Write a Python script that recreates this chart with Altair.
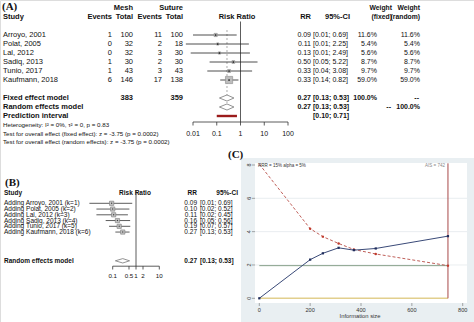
import altair as alt
import pandas as pd

# ---------------- data ----------------
studies = ["Arroyo, 2001", "Polat, 2005", "Lal, 2012", "Sadiq, 2013", "Tunio, 2017", "Kaufmann, 2018"]
mesh_events = [1, 0, 0, 1, 1, 6]
mesh_total = [100, 32, 32, 30, 43, 146]
sut_events = [11, 2, 3, 2, 3, 17]
sut_total = [100, 18, 30, 30, 43, 138]
rr = [0.09, 0.11, 0.13, 0.50, 0.33, 0.33]
rr_lo = [0.01, 0.005, 0.008, 0.05, 0.04, 0.14]
rr_hi = [0.69, 2.25, 2.49, 5.22, 3.08, 0.82]
w_fixed = [11.6, 5.4, 5.6, 8.7, 9.7, 59.0]
w_random = [11.6, 5.4, 5.6, 8.7, 9.7, 59.0]
pooled_rr, pooled_lo, pooled_hi = 0.27, 0.13, 0.53
pred_lo, pred_hi = 0.10, 0.71
total_mesh, total_suture = 383, 359

cum_labels = ["Adding Arroyo, 2001 (k=1)", "Adding Polat, 2005 (k=2)", "Adding Lal, 2012 (k=3)",
              "Adding Sadiq, 2013 (k=4)", "Adding Tunio, 2017 (k=5)", "Adding Kaufmann, 2018 (k=6)"]
cum_rr = [0.09, 0.10, 0.11, 0.16, 0.19, 0.27]
cum_lo = [0.01, 0.02, 0.02, 0.05, 0.07, 0.13]
cum_hi = [0.69, 0.52, 0.45, 0.56, 0.57, 0.53]

info_size = [0, 200, 250, 312, 372, 458, 742]
z_cum = [0, 2.32, 2.70, 3.03, 2.89, 2.99, 3.73]
boundary_z = [8.05, 4.18, 3.70, 3.29, 2.93, 2.66, 1.96]
ris = 742
z_conv = 1.96

a_ticks = [0.01, 0.1, 1, 10, 100]
a_tick_labels = ["0.01", "0.1", "1", "10", "100"]
b_ticks = [0.1, 0.5, 1, 2, 10]
b_tick_labels = ["0.1", "0.5", "1", "2", "10"]
c_xticks = [0, 200, 400, 600, 800]
c_yticks = [0, 2, 4, 6, 8]

FONT = "Liberation Sans"
SERIF = "Liberation Serif"
INK = "#111111"

# ---------------- scales (pixel layout) ----------------
A_X = alt.Scale(type="log", domain=[0.01, 100], range=[193, 288])
A_Y = alt.Scale(domain=[0, 10], range=[8, 98], nice=False, zero=False)
B_X = alt.Scale(type="log", domain=[0.1, 10], range=[112.7, 159.3])
B_Y = alt.Scale(domain=[0, 10], range=[197.55, 255.05], nice=False, zero=False)
C_X = alt.Scale(domain=[0, 800], range=[259.3, 462.7], nice=False, zero=False)
C_Y = alt.Scale(domain=[0, 8], range=[298.3, 165], nice=False, zero=False)


def X(f, sc):
    return alt.X(f, type="quantitative", scale=sc, axis=None)


def Y(f, sc):
    return alt.Y(f, type="quantitative", scale=sc, axis=None)


def lab(txt, x, row, ysc=None, align="left", size=7.5, bold=False, color=INK, font=FONT, angle=None):
    df = pd.DataFrame({"t": [txt], "r": [row]})
    kw = dict(align=align, baseline="middle", fontSize=size, font=font, color=color,
              fontWeight="bold" if bold else "normal")
    if angle is not None:
        kw["angle"] = angle
    yy = alt.value(row) if ysc is None else Y("r", ysc)
    return alt.Chart(df).mark_text(**kw).encode(x=alt.value(x), y=yy, text="t:N")


def col(df, field, x, ysc, align="right", size=7.5, bold=False, color=INK):
    return alt.Chart(df).mark_text(align=align, baseline="middle", fontSize=size, font=FONT, color=color,
                                   fontWeight="bold" if bold else "normal").encode(
        x=alt.value(x), y=Y("row", ysc), text=alt.Text(field, type="nominal"))


layers = []

# =============== Panel A ===============
dfA = pd.DataFrame({
    "study": studies,
    "ev_m": [str(v) for v in mesh_events],
    "tot_m": [str(v) for v in mesh_total],
    "ev_s": [str(v) for v in sut_events],
    "tot_s": [str(v) for v in sut_total],
    "rr": rr, "lo": rr_lo, "hi": rr_hi, "wf": w_fixed,
    "row": [3 + i for i in range(len(studies))],
})
dfA["rr_s"] = [f"{v:.2f}" for v in rr]
dfA["ci_s"] = [f"[{l:.2f}; {h:.2f}]" for l, h in zip(rr_lo, rr_hi)]
dfA["wf_s"] = [f"{w:.1f}%" for w in w_fixed]
dfA["wr_s"] = [f"{w:.1f}%" for w in w_random]

layers.append(lab("(A)", 2, 6.5, None, size=11, bold=True, font=SERIF))
# headers
for t, x, r, al in [("Mesh", 133, 0, "right"), ("Suture", 183, 0, "right"),
                    ("Study", 3, 1, "left"), ("Events", 112, 1, "right"), ("Total", 133, 1, "right"),
                    ("Events", 162, 1, "right"), ("Total", 183, 1, "right"),
                    ("Risk Ratio", 237, 1, "center"), ("RR", 311, 1, "right"),
                    ("95%-CI", 350, 1, "right")]:
    layers.append(lab(t, x, r, A_Y, align=al, bold=True))
for t, x, r in [("Weight", 392, 0), ("Weight", 420, 0), ("(fixed)", 392, 1), ("(random)", 420, 1)]:
    layers.append(lab(t, x, r, A_Y, align="right", size=6.8, bold=True))

layers.append(col(dfA, "study", 3, A_Y, align="left"))
layers.append(col(dfA, "ev_m", 112, A_Y))
layers.append(col(dfA, "tot_m", 133, A_Y))
layers.append(col(dfA, "ev_s", 162, A_Y))
layers.append(col(dfA, "tot_s", 183, A_Y))
layers.append(col(dfA, "rr_s", 311, A_Y, size=7))
layers.append(col(dfA, "ci_s", 313, A_Y, align="left", size=7))
layers.append(col(dfA, "wf_s", 377, A_Y, size=7))
layers.append(col(dfA, "wr_s", 420, A_Y, size=7))

# reference lines
ref1 = pd.DataFrame({"x": [1.0]})
layers.append(alt.Chart(ref1).mark_rule(color="#333333", strokeWidth=0.8).encode(
    x=X("x", A_X), y=alt.value(21.5), y2=alt.value(122)))
refp = pd.DataFrame({"x": [pooled_rr]})
layers.append(alt.Chart(refp).mark_rule(color="#888888", strokeWidth=0.7, strokeDash=[2, 2]).encode(
    x=X("x", A_X), y=alt.value(30), y2=alt.value(103)))

# CIs, squares, dots
layers.append(alt.Chart(dfA).mark_rule(color="#222222", strokeWidth=0.8).encode(
    x=X("lo", A_X), x2="hi", y=Y("row", A_Y)))
layers.append(alt.Chart(dfA).mark_square(filled=True, fill="#bdbdbd", stroke="#8a8a8a", strokeWidth=0.6, opacity=1).encode(
    x=X("rr", A_X), y=Y("row", A_Y),
    size=alt.Size("wf", type="quantitative", scale=alt.Scale(domain=[0, 59], range=[0, 52]), legend=None)))
layers.append(alt.Chart(dfA).mark_point(filled=True, color="#111111", size=3, opacity=1).encode(
    x=X("rr", A_X), y=Y("row", A_Y)))

# diamonds
dia_h = 0.34
dA = pd.DataFrame({
    "x": [pooled_lo, pooled_rr, pooled_hi] * 2,
    "y1": [10, 10 - dia_h, 10, 11, 11 - dia_h, 11],
    "y2": [10, 10 + dia_h, 10, 11, 11 + dia_h, 11],
    "g": ["f"] * 3 + ["r"] * 3,
})
layers.append(alt.Chart(dA).mark_area(fill="#ffffff", stroke="#777777", strokeWidth=0.8, opacity=1).encode(
    x=X("x", A_X), y=Y("y1", A_Y), y2="y2", detail="g:N"))
# prediction interval
pA = pd.DataFrame({"lo": [pred_lo], "hi": [pred_hi], "row": [12]})
layers.append(alt.Chart(pA).mark_rule(color="#9b1b1b", strokeWidth=2.4).encode(
    x=X("lo", A_X), x2="hi", y=Y("row", A_Y)))

# axis A
axA = pd.DataFrame({"t": a_ticks, "lab": a_tick_labels})
layers.append(alt.Chart(pd.DataFrame({"a": [a_ticks[0]], "b": [a_ticks[-1]]})).mark_rule(
    color="#333333", strokeWidth=0.8).encode(x=X("a", A_X), x2="b", y=alt.value(122)))
layers.append(alt.Chart(axA).mark_rule(color="#333333", strokeWidth=0.8).encode(
    x=X("t", A_X), y=alt.value(122), y2=alt.value(125.5)))
layers.append(alt.Chart(axA).mark_text(fontSize=7, font=FONT, color=INK, baseline="middle").encode(
    x=X("t", A_X), y=alt.value(133.5), text="lab:N"))

# summary rows
for t, x, r, al in [("Fixed effect model", 3, 10, "left"), ("Random effects model", 3, 11, "left"),
                    ("Prediction interval", 3, 12, "left")]:
    layers.append(lab(t, x, r, A_Y, align=al, bold=True))
layers.append(lab(str(total_mesh), 133, 10, A_Y, align="right", bold=True))
layers.append(lab(str(total_suture), 183, 10, A_Y, align="right", bold=True))
ci_pool = f"[{pooled_lo:.2f}; {pooled_hi:.2f}]"
for r in (10, 11):
    layers.append(lab(f"{pooled_rr:.2f}", 311, r, A_Y, align="right", size=7, bold=True))
    layers.append(lab(ci_pool, 313, r, A_Y, align="left", size=7, bold=True))
layers.append(lab("100.0%", 377, 10, A_Y, align="right", size=7, bold=True))
layers.append(lab("--", 419, 10, A_Y, align="right", size=7, bold=True))
layers.append(lab("--", 391, 11, A_Y, align="right", size=7, bold=True))
layers.append(lab("100.0%", 420, 11, A_Y, align="right", size=7, bold=True))
layers.append(lab(f"[{pred_lo:.2f}; {pred_hi:.2f}]", 313, 12, A_Y, align="left", size=7, bold=True))

layers.append(lab("Heterogeneity: I\u00b2 = 0%, \u03c4\u00b2 = 0, p = 0.83", 3, 125, None, size=6.2))
layers.append(lab("Test for overall effect (fixed effect): z = -3.75 (p = 0.0002)", 3, 133.5, None, size=6.2))
layers.append(lab("Test for overall effect (random effects): z = -3.75 (p = 0.0002)", 3, 142, None, size=6.2))

# =============== Panel B ===============
BS = 6.5
dfB = pd.DataFrame({
    "lab": cum_labels, "rr": cum_rr, "lo": cum_lo, "hi": cum_hi,
    "row": [1 + i for i in range(len(cum_labels))],
})
dfB["rr_s"] = [f"{v:.2f}" for v in cum_rr]
dfB["ci_s"] = [f"[{l:.2f}; {h:.2f}]" for l, h in zip(cum_lo, cum_hi)]

layers.append(lab("(B)", 5, 183, None, size=11, bold=True, font=SERIF))
for t, x, al in [("Study", 4, "left"), ("Risk Ratio", 135, "center"), ("RR", 197, "right"),
                 ("95%-CI", 238, "right")]:
    layers.append(lab(t, x, -0.8, B_Y, align=al, size=BS, bold=True))
layers.append(col(dfB, "lab", 4, B_Y, align="left", size=BS))
layers.append(col(dfB, "rr_s", 197, B_Y, size=BS))
layers.append(col(dfB, "ci_s", 200, B_Y, align="left", size=BS))

layers.append(alt.Chart(ref1).mark_rule(color="#333333", strokeWidth=0.8).encode(
    x=X("x", B_X), y=alt.value(190), y2=alt.value(266.2)))
layers.append(alt.Chart(dfB).mark_rule(color="#333333", strokeWidth=0.8).encode(
    x=X("lo", B_X), x2="hi", y=Y("row", B_Y)))
layers.append(alt.Chart(dfB).mark_square(filled=True, fill="#c4c4c4", stroke="#7a7a7a", strokeWidth=0.6,
                                         size=18, opacity=1).encode(x=X("rr", B_X), y=Y("row", B_Y)))
layers.append(alt.Chart(dfB).mark_point(filled=True, color="#444444", size=2, opacity=1).encode(
    x=X("rr", B_X), y=Y("row", B_Y)))
dB = pd.DataFrame({"x": [pooled_lo, pooled_rr, pooled_hi],
                   "y1": [11, 11 - 0.38, 11], "y2": [11, 11 + 0.38, 11]})
layers.append(alt.Chart(dB).mark_area(fill="#ffffff", stroke="#777777", strokeWidth=0.8, opacity=1).encode(
    x=X("x", B_X), y=Y("y1", B_Y), y2="y2"))
layers.append(lab("Random effects model", 4, 11, B_Y, size=BS, bold=True))
layers.append(lab(f"{pooled_rr:.2f}", 197, 11, B_Y, align="right", size=BS, bold=True))
layers.append(lab(ci_pool, 200, 11, B_Y, align="left", size=BS, bold=True))

axB = pd.DataFrame({"t": b_ticks, "lab": b_tick_labels})
layers.append(alt.Chart(pd.DataFrame({"a": [b_ticks[0]], "b": [b_ticks[-1]]})).mark_rule(
    color="#333333", strokeWidth=0.8).encode(x=X("a", B_X), x2="b", y=alt.value(266.2)))
layers.append(alt.Chart(axB).mark_rule(color="#333333", strokeWidth=0.8).encode(
    x=X("t", B_X), y=alt.value(266.2), y2=alt.value(269.5)))
layers.append(alt.Chart(axB).mark_text(fontSize=6.2, font=FONT, color=INK, baseline="middle").encode(
    x=X("t", B_X), y=alt.value(275.5), text="lab:N"))

# =============== Panel C ===============
one = pd.DataFrame({"a": [0]})
layers.append(alt.Chart(one).mark_rect(color="#e9eff2").encode(
    x=alt.value(241), x2=alt.value(474), y=alt.value(158), y2=alt.value(322)))
layers.append(alt.Chart(one).mark_rect(color="#ffffff").encode(
    x=alt.value(255), x2=alt.value(467), y=alt.value(163), y2=alt.value(303)))
layers.append(lab("(C)", 228, 155, None, size=11, bold=True, font=SERIF))

grid = pd.DataFrame({"y": [2, 4, 6]})
layers.append(alt.Chart(grid).mark_rule(color="#e3e9ec", strokeWidth=0.8).encode(
    y=Y("y", C_Y), x=alt.value(255), x2=alt.value(467)))

cy = pd.DataFrame({"t": c_yticks, "lab": [str(v) for v in c_yticks]})
layers.append(alt.Chart(cy).mark_rule(color="#6e6e6e", strokeWidth=0.6).encode(
    y=Y("t", C_Y), x=alt.value(252), x2=alt.value(255)))
layers.append(alt.Chart(cy).mark_text(fontSize=5.5, font=FONT, color="#333333", angle=270,
                                      baseline="middle").encode(
    y=Y("t", C_Y), x=alt.value(248.5), text="lab:N"))
cx = pd.DataFrame({"t": c_xticks, "lab": [str(v) for v in c_xticks]})
layers.append(alt.Chart(cx).mark_rule(color="#6e6e6e", strokeWidth=0.6).encode(
    x=X("t", C_X), y=alt.value(303), y2=alt.value(306)))
layers.append(alt.Chart(cx).mark_text(fontSize=5.6, font=FONT, color="#333333", baseline="middle").encode(
    x=X("t", C_X), y=alt.value(309.5), text="lab:N"))
layers.append(lab("Information size", 360, 315.5, None, align="center", size=5.8, color="#333333"))

# reference lines in C
layers.append(alt.Chart(pd.DataFrame({"a": [0], "b": [ris], "y": [0]})).mark_rule(
    color="#e2cf8e", strokeWidth=1.4).encode(x=X("a", C_X), x2="b", y=Y("y", C_Y)))
layers.append(alt.Chart(pd.DataFrame({"a": [0], "b": [ris], "y": [z_conv]})).mark_rule(
    color="#86a08a", strokeWidth=1).encode(x=X("a", C_X), x2="b", y=Y("y", C_Y)))
layers.append(alt.Chart(pd.DataFrame({"x": [ris], "a": [0], "b": [8.1]})).mark_rule(
    color="#a84848", strokeWidth=1).encode(x=X("x", C_X), y=Y("a", C_Y), y2="b"))

dfC = pd.DataFrame({"n": info_size, "z": z_cum, "bz": boundary_z})
layers.append(alt.Chart(dfC).mark_line(color="#c0605a", strokeWidth=1, strokeDash=[3, 2]).encode(
    x=X("n", C_X), y=Y("bz", C_Y)))
layers.append(alt.Chart(dfC.iloc[1:]).mark_point(filled=True, color="#c0392b", size=6, opacity=1).encode(
    x=X("n", C_X), y=Y("bz", C_Y)))
layers.append(alt.Chart(dfC).mark_line(color="#3a4a78", strokeWidth=1).encode(
    x=X("n", C_X), y=Y("z", C_Y)))
layers.append(alt.Chart(dfC).mark_square(filled=True, color="#1f2d5c", size=5, opacity=1).encode(
    x=X("n", C_X), y=Y("z", C_Y)))

layers.append(lab("RRR = 15% alpha = 5%", 258, 165.5, None, size=4.5, color="#333333"))
layers.append(lab(f"AIS = {ris}", 445, 165.5, None, align="right", size=4.5, color="#888888"))

chart = alt.layer(*layers).resolve_scale(
    x="independent", y="independent", size="independent"
).properties(
    width=474, height=322, padding=0, autosize=alt.AutoSizeParams(type="none")
).configure_view(stroke=None).configure(background="white")

chart.save("out.html", embed_options={"renderer": "svg", "actions": False})
